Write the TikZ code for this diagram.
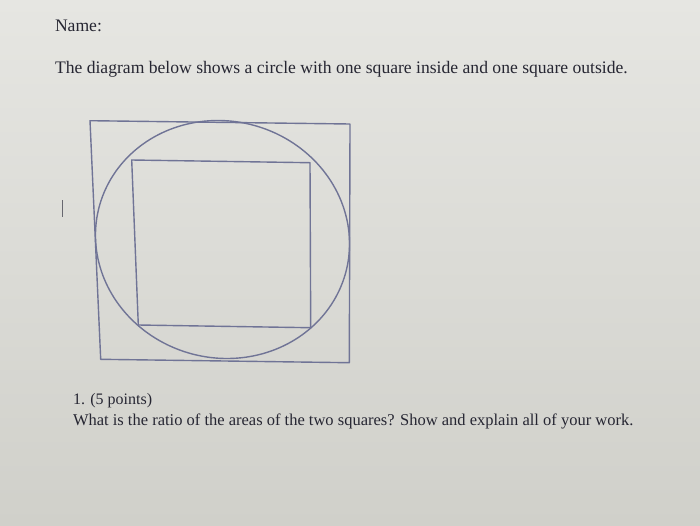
\documentclass[tikz,border=0pt]{standalone}
\usepackage{fontspec}
\setmainfont{Liberation Serif}
\usetikzlibrary{positioning}

\definecolor{paper}{RGB}{230,230,226}
\definecolor{paperdark}{RGB}{208,208,202}
\definecolor{ink}{RGB}{38,38,50}
\definecolor{penline}{RGB}{112,116,150}

\begin{document}
\begin{tikzpicture}[x=1pt,y=-1pt,every node/.style={inner sep=0pt,outer sep=0pt,text=ink}]
\tikzstyle{txt}=[anchor=west,font=\fontsize{17.6}{21}\selectfont]
\tikzstyle{figline}=[draw=penline,line width=1.4pt,line join=round]

\useasboundingbox (0,0) rectangle (700,525);
\shade[top color=paper,bottom color=paperdark] (0,0) rectangle (700,525);

% header
\node (name) [txt] at (55,26) {Name:};
\node (intro) [txt] at (55,69) {The diagram below shows a circle with one square inside and one square outside.};

% outer square
\coordinate (o1) at (90,120.7);
\coordinate (o2) at (350,124);
\coordinate (o3) at (349.3,362.7);
\coordinate (o4) at (100.7,359.3);
\draw [figline] (o1) -- (o2) -- (o3) -- (o4) -- cycle;

% inner square
\coordinate (i1) at (131.7,160);
\coordinate (i2) at (310,162.7);
\coordinate (i3) at (310.7,327.7);
\coordinate (i4) at (138.3,325);
\draw [figline] (i1) -- (i2) -- (i3) -- (i4) -- cycle;

% circle (seen at a slant)
\draw [figline] plot[domain=0:360,samples=90,smooth cycle]
  ({222.5+127*cos(\x)+3*sin(\x)},{239.5+1.5*cos(\x)+119*sin(\x)});

% cursor
\coordinate (c1) at (62.5,200);
\coordinate (c2) at (62.5,217);
\draw [ink!70,line width=0.9pt] (c1) -- (c2);

% question
\node (pts) [txt,font=\fontsize{16}{19}\selectfont] at (73,401) {1. (5 points)};
\node (ask) [txt,font=\fontsize{16.5}{19}\selectfont] at (73,421) {What is the ratio of the areas of the two squares? Show and explain all of your work.};
\end{tikzpicture}
\end{document}
